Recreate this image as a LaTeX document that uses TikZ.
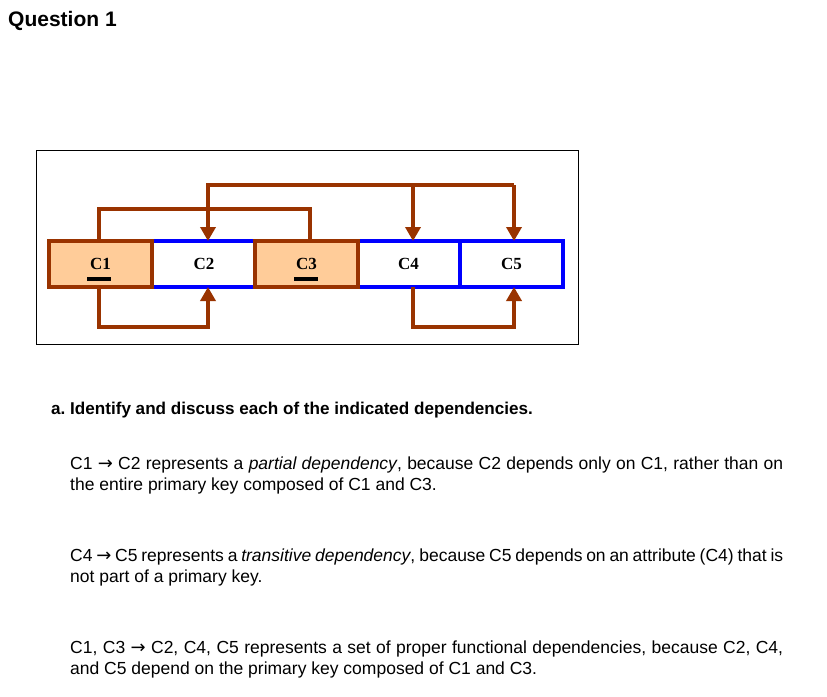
\documentclass[tikz,border=0pt]{standalone}
\usepackage{fontspec}
\setmainfont{Liberation Sans}
\newfontfamily\tms{Liberation Serif}
\newfontfamily\djv{DejaVu Sans}
\usetikzlibrary{arrows.meta}
\definecolor{brn}{HTML}{993300}
\definecolor{pch}{HTML}{FFCC99}
\definecolor{blu}{HTML}{0000FF}
\newcommand{\rarr}{{\djv\fontsize{18}{21}\selectfont →}}
\begin{document}
\begin{tikzpicture}[x=1pt,y=-1pt,
  keybox/.style={draw=brn,fill=pch,line width=3.5pt,minimum width=103pt,minimum height=46pt,inner sep=0pt,font=\tms\bfseries\fontsize{17}{19}\selectfont},
  attrbox/.style={draw=blu,fill=white,line width=3.5pt,minimum width=103pt,minimum height=46pt,inner sep=0pt,font=\tms\bfseries\fontsize{17}{19}\selectfont},
  dep/.style={brn,line width=4pt},
  deparr/.style={dep,-{Triangle[width=15pt,length=14pt]}},
  txt/.style={anchor=north west,inner sep=0pt,font=\fontsize{17.5}{21}\selectfont,align=left}]
\useasboundingbox (0,0) rectangle (827,696);
\node[anchor=base west,inner sep=0pt,font=\bfseries\fontsize{21}{23}\selectfont] (q) at (8,27) {Question 1};
\draw[line width=1pt] (36,150) rectangle (578,344);
\node[attrbox] (c2) at (204,264) {C2};
\node[attrbox] (c4) at (408.5,264) {C4};
\node[attrbox] (c5) at (511.5,264) {C5};
\node[keybox] (c1) at (100.5,264) {C1};
\node[keybox] (c3) at (306.5,264) {C3};
\draw[line width=3.5pt] (87,279) -- (111,279);
\draw[line width=3.5pt] (294,279) -- (318,279);
\coordinate (t1) at (99,209); \coordinate (t3) at (310,209);
\coordinate (u2) at (208,185); \coordinate (u5) at (514,185);
\draw[dep] (99,241) -- (t1) -- (t3) -- (310,241);
\draw[deparr] (u5) -- (u2) -- (208,241);
\draw[deparr] (413,185) -- (413,241);
\draw[deparr] (u5) -- (514,241);
\coordinate (b1) at (99,327); \coordinate (b2) at (208,327);
\coordinate (b4) at (413,327); \coordinate (b5) at (514,327);
\draw[deparr] (99,287) -- (b1) -- (b2) -- (208,287);
\draw[deparr] (413,287) -- (b4) -- (b5) -- (514,287);
\node[anchor=base west,inner sep=0pt,font=\bfseries\fontsize{17.1}{18}\selectfont] (a) at (51,414) {a.};
\node[anchor=base west,inner sep=0pt,font=\bfseries\fontsize{17.1}{18}\selectfont] (aq) at (70,414) {Identify and discuss each of the indicated dependencies.};
\node[txt] (p1) at (70,457) {\makebox[713pt][s]{C1 \rarr{} C2 represents a \textit{partial dependency}, because C2 depends only on C1, rather than on}\\the entire primary key composed of C1 and C3.};
\node[txt] (p2) at (70,549) {\makebox[713pt][s]{C4 \rarr{} C5 represents a \textit{transitive dependency}, because C5 depends on an attribute (C4) that is}\\not part of a primary key.};
\node[txt] (p3) at (70,641) {\makebox[713pt][s]{C1, C3 \rarr{} C2, C4, C5 represents a set of proper functional dependencies, because C2, C4,}\\and C5 depend on the primary key composed of C1 and C3.};
\end{tikzpicture}
\end{document}
